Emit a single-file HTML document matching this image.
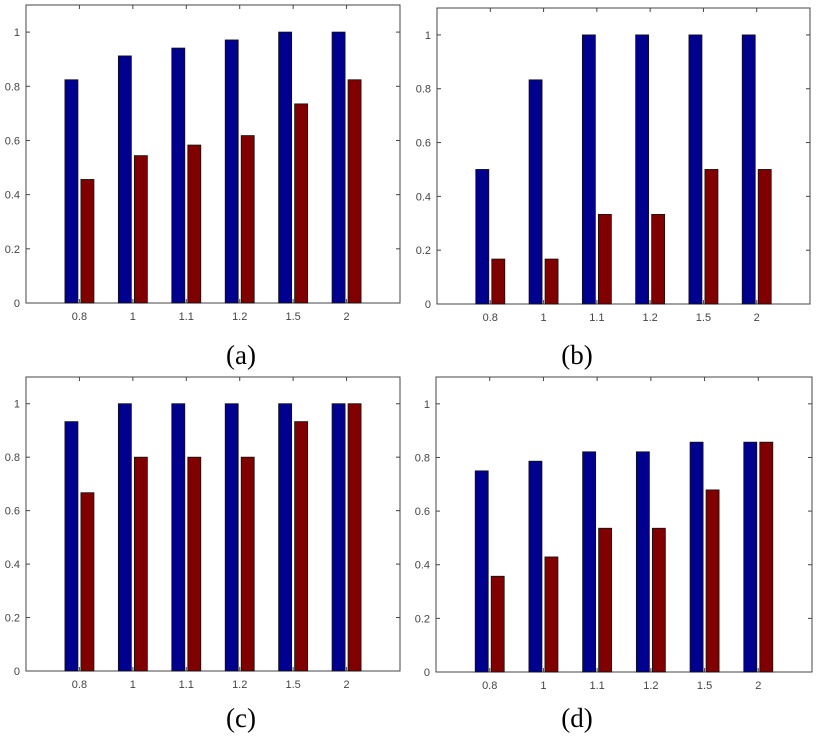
<!DOCTYPE html>
<html><head><meta charset="utf-8"><style>
html,body{margin:0;padding:0;background:#fff;width:818px;height:737px;overflow:hidden}
svg text{font-family:"Liberation Sans",sans-serif}
</style></head><body>
<svg id="fig" width="818" height="737"></svg>
<script>
const categories = ["0.8","1","1.1","1.2","1.5","2"];
const yTicks = [0,0.2,0.4,0.6,0.8,1];
const yTickLabels = ["0","0.2","0.4","0.6","0.8","1"];
const blueA = [0.824,0.912,0.941,0.971,1,1];
const redA  = [0.456,0.544,0.583,0.618,0.735,0.824];
const blueB = [0.5,0.833,1,1,1,1];
const redB  = [0.167,0.167,0.333,0.333,0.5,0.5];
const blueC = [0.933,1,1,1,1,1];
const redC  = [0.667,0.8,0.8,0.8,0.933,1];
const blueD = [0.75,0.786,0.821,0.821,0.857,0.857];
const redD  = [0.357,0.429,0.536,0.536,0.679,0.857];
const panelLabels = ["(a)","(b)","(c)","(d)"];

const NS="http://www.w3.org/2000/svg";
const svg=document.getElementById('fig');
function mk(t,a,p){const e=document.createElementNS(NS,t);for(const k in a)e.setAttribute(k,a[k]);(p||svg).appendChild(e);return e;}

const panels=[
 {L:26,T:5,R:400,B:303,blue:blueA,red:redA,lx:241,ly:364},
 {L:437,T:8,R:810,B:304,blue:blueB,red:redB,lx:577,ly:364},
 {L:26,T:377,R:400,B:671,blue:blueC,red:redC,lx:241,ly:727},
 {L:436,T:377,R:812,B:672,blue:blueD,red:redD,lx:577,ly:727}
];
panels.forEach((p,pi)=>{
  const g=mk('g',{});
  
  
  const y=v=>p.B-(v/1.1)*(p.B-p.T);
  const x=i=>p.L+(i+1)*(p.R-p.L)/7;
  const box=mk('rect',{x:p.L,y:p.T,width:p.R-p.L,height:p.B-p.T,fill:'#fff',stroke:'#444','stroke-width':1},g);
  
  
  yTicks.forEach((t,k)=>{
    const yy=y(t);
    mk('line',{x1:p.L,x2:p.L+4,y1:yy,y2:yy,stroke:'#444'},g);
    mk('line',{x1:p.R,x2:p.R-4,y1:yy,y2:yy,stroke:'#444'},g);
    const tl=mk('text',{x:p.L-6,y:yy+4,'text-anchor':'end','font-size':11,fill:'#444'},g);
    tl.textContent=yTickLabels[k];
    
    
  });
  categories.forEach((c,i)=>{
    const cx=x(i);
    mk('line',{x1:cx,x2:cx,y1:p.B,y2:p.B-4,stroke:'#444'},g);
    mk('line',{x1:cx,x2:cx,y1:p.T,y2:p.T+4,stroke:'#444'},g);
    const tl=mk('text',{x:cx,y:p.B+17,'text-anchor':'middle','font-size':11,fill:'#444'},g);
    tl.textContent=c;
    
    
    const b=mk('rect',{x:cx-14.5,y:y(p.blue[i]),width:13,height:p.B-y(p.blue[i]),fill:'#00008f',stroke:'#111','stroke-width':0.8},g);
    
    
    const r=mk('rect',{x:cx+1.5,y:y(p.red[i]),width:13,height:p.B-y(p.red[i]),fill:'#800000',stroke:'#111','stroke-width':0.8},g);
    
    
  });
  const lab=mk('text',{x:p.lx,y:p.ly,'text-anchor':'middle','font-size':27,fill:'#000','font-family':'Liberation Serif, serif'},g);
  lab.setAttribute('style','font-family:"Liberation Serif",serif');
  lab.textContent=panelLabels[pi];
  
  
});
</script>
</body></html>
